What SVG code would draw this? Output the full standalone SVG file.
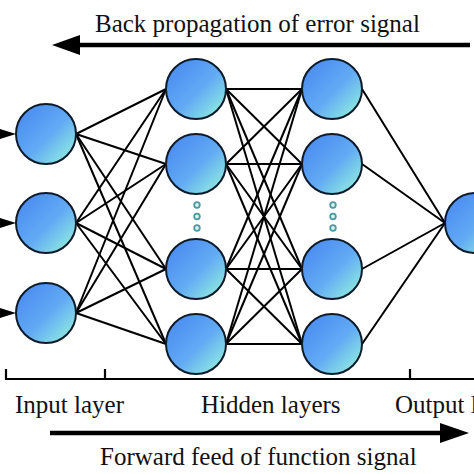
<svg xmlns="http://www.w3.org/2000/svg" width="474" height="474" viewBox="0 0 474 474">
<style>
.n{fill:url(#g);stroke:#0d1a2a;stroke-width:2}
.c line{stroke:#000;stroke-width:2}
.t{font-family:"Liberation Serif",serif;font-size:25px;fill:#111}
.d{fill:#d8f0f0;stroke:#4a9aa0;stroke-width:1.8}
.ax{stroke:#000;stroke-width:2.2;fill:none}
.ar{stroke:#000;stroke-width:4.5}
</style>
<defs>
<linearGradient id="g" x1="0.1" y1="0.1" x2="0.9" y2="0.9">
<stop offset="0" stop-color="#4a8cf0"/>
<stop offset="0.55" stop-color="#62aaf4"/>
<stop offset="1" stop-color="#8eeae0"/>
</linearGradient>
</defs>
<rect width="474" height="474" fill="#fff"/>
<text class="t" x="95" y="32">Back propagation of error signal</text>
<g id="top-arrow">
<line class="ar" x1="76" y1="45" x2="470" y2="45"/>
<polygon points="52,45 80,35 80,55" fill="#000"/>
</g>
<g class="c" id="connectors">
<line x1="76" y1="134" x2="166" y2="89"/><line x1="76" y1="134" x2="166" y2="164"/><line x1="76" y1="134" x2="166" y2="269"/><line x1="76" y1="134" x2="166" y2="344"/>
<line x1="76" y1="223" x2="166" y2="89"/><line x1="76" y1="223" x2="166" y2="164"/><line x1="76" y1="223" x2="166" y2="269"/><line x1="76" y1="223" x2="166" y2="344"/>
<line x1="76" y1="313" x2="166" y2="89"/><line x1="76" y1="313" x2="166" y2="164"/><line x1="76" y1="313" x2="166" y2="269"/><line x1="76" y1="313" x2="166" y2="344"/>
<line x1="226" y1="89" x2="302" y2="89"/><line x1="226" y1="89" x2="302" y2="164"/><line x1="226" y1="89" x2="302" y2="269"/><line x1="226" y1="89" x2="302" y2="344"/>
<line x1="226" y1="164" x2="302" y2="89"/><line x1="226" y1="164" x2="302" y2="164"/><line x1="226" y1="164" x2="302" y2="269"/><line x1="226" y1="164" x2="302" y2="344"/>
<line x1="226" y1="269" x2="302" y2="89"/><line x1="226" y1="269" x2="302" y2="164"/><line x1="226" y1="269" x2="302" y2="269"/><line x1="226" y1="269" x2="302" y2="344"/>
<line x1="226" y1="344" x2="302" y2="89"/><line x1="226" y1="344" x2="302" y2="164"/><line x1="226" y1="344" x2="302" y2="269"/><line x1="226" y1="344" x2="302" y2="344"/>
<line x1="362" y1="89" x2="445" y2="223"/><line x1="362" y1="164" x2="445" y2="223"/><line x1="362" y1="269" x2="445" y2="223"/><line x1="362" y1="344" x2="445" y2="223"/>
<polygon points="16,134 0,129 0,139" fill="#000"/>
<polygon points="16,223 0,218 0,228" fill="#000"/>
<polygon points="16,313 0,308 0,318" fill="#000"/>
</g>
<g id="input1"><circle class="n" cx="46" cy="134" r="30"/></g>
<g id="input2"><circle class="n" cx="46" cy="223" r="30"/></g>
<g id="input3"><circle class="n" cx="46" cy="313" r="30"/></g>
<g id="h1a"><circle class="n" cx="196" cy="89" r="30"/></g>
<g id="h1b"><circle class="n" cx="196" cy="164" r="30"/></g>
<g id="h1c"><circle class="n" cx="196" cy="269" r="30"/></g>
<g id="h1d"><circle class="n" cx="196" cy="344" r="30"/></g>
<g id="h2a"><circle class="n" cx="332" cy="89" r="30"/></g>
<g id="h2b"><circle class="n" cx="332" cy="164" r="30"/></g>
<g id="h2c"><circle class="n" cx="332" cy="269" r="30"/></g>
<g id="h2d"><circle class="n" cx="332" cy="344" r="30"/></g>
<g id="output"><circle class="n" cx="475" cy="223" r="30"/></g>
<g id="dots1"><circle class="d" cx="197" cy="205" r="2.8"/><circle class="d" cx="197" cy="216.5" r="2.8"/><circle class="d" cx="197" cy="228" r="2.8"/></g>
<g id="dots2"><circle class="d" cx="333" cy="205" r="2.8"/><circle class="d" cx="333" cy="216.5" r="2.8"/><circle class="d" cx="333" cy="228" r="2.8"/></g>
<g id="axis">
<path class="ax" d="M6,369 V379 H480 M105,369 V379 M410,369 V379"/>
</g>
<text class="t" x="15" y="413">Input layer</text>
<text class="t" x="201" y="413">Hidden layers</text>
<text class="t" x="395" y="413">Output layer</text>
<g id="bottom-arrow">
<line class="ar" x1="50" y1="433" x2="445" y2="433"/>
<polygon points="469,433 440,423 440,443" fill="#000"/>
</g>
<text class="t" x="100" y="465">Forward feed of function signal</text>
</svg>
